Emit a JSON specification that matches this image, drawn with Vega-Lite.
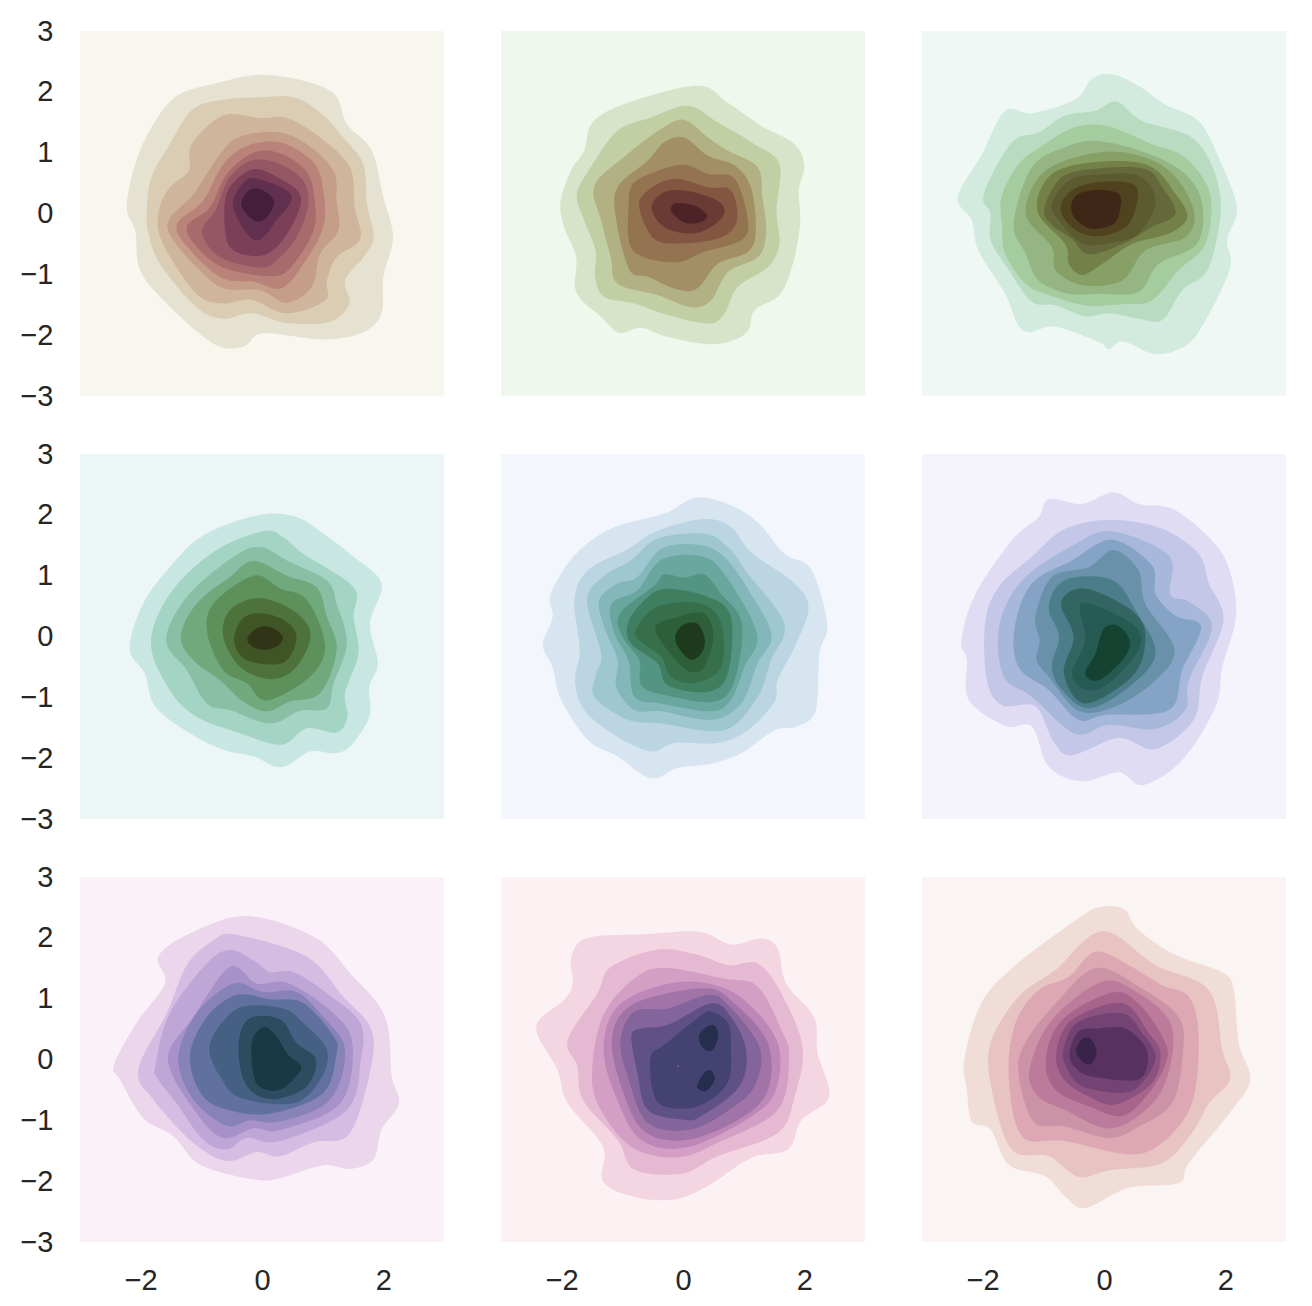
{"$schema":"https://vega.github.io/schema/vega-lite/v6.json","padding":{"left":19,"top":17,"right":0,"bottom":0},"background":"white","columns":3,"data":{"values":[
{"p":1,"k":100,"x":-3,"y":-3},{"p":1,"k":100,"x":3,"y":-3},{"p":1,"k":100,"x":3,"y":3},{"p":1,"k":100,"x":-3,"y":3},
{"p":1,"k":101,"x":-2.23,"y":0.1},{"p":1,"k":101,"x":-2.09,"y":0.81},{"p":1,"k":101,"x":-1.82,"y":1.42},{"p":1,"k":101,"x":-1.41,"y":1.93},{"p":1,"k":101,"x":-0.8,"y":2.13},{"p":1,"k":101,"x":0.08,"y":2.28},{"p":1,"k":101,"x":1.12,"y":2.02},{"p":1,"k":101,"x":1.4,"y":1.47},{"p":1,"k":101,"x":1.81,"y":1.03},{"p":1,"k":101,"x":2,"y":0.27},{"p":1,"k":101,"x":2.16,"y":-0.39},{"p":1,"k":101,"x":2,"y":-1.04},{"p":1,"k":101,"x":1.97,"y":-1.64},{"p":1,"k":101,"x":1.67,"y":-1.95},{"p":1,"k":101,"x":1.01,"y":-2.07},{"p":1,"k":101,"x":0.02,"y":-1.97},{"p":1,"k":101,"x":-0.31,"y":-2.19},{"p":1,"k":101,"x":-0.8,"y":-2.14},{"p":1,"k":101,"x":-1.57,"y":-1.48},{"p":1,"k":101,"x":-2.01,"y":-0.93},{"p":1,"k":101,"x":-2.09,"y":-0.28},
{"p":1,"k":102,"x":-1.9,"y":0.05},{"p":1,"k":102,"x":-1.82,"y":0.6},{"p":1,"k":102,"x":-1.52,"y":1.14},{"p":1,"k":102,"x":-1.13,"y":1.72},{"p":1,"k":102,"x":-0.58,"y":1.88},{"p":1,"k":102,"x":-0.03,"y":1.91},{"p":1,"k":102,"x":0.52,"y":1.91},{"p":1,"k":102,"x":0.96,"y":1.66},{"p":1,"k":102,"x":1.34,"y":1.25},{"p":1,"k":102,"x":1.67,"y":0.81},{"p":1,"k":102,"x":1.73,"y":0.16},{"p":1,"k":102,"x":1.84,"y":-0.39},{"p":1,"k":102,"x":1.67,"y":-0.72},{"p":1,"k":102,"x":1.37,"y":-1.1},{"p":1,"k":102,"x":1.44,"y":-1.48},{"p":1,"k":102,"x":1.12,"y":-1.78},{"p":1,"k":102,"x":0.41,"y":-1.8},{"p":1,"k":102,"x":-0.17,"y":-1.64},{"p":1,"k":102,"x":-0.64,"y":-1.73},{"p":1,"k":102,"x":-1.08,"y":-1.54},{"p":1,"k":102,"x":-1.68,"y":-0.83},{"p":1,"k":102,"x":-1.87,"y":-0.33},
{"p":1,"k":103,"x":-1.71,"y":0},{"p":1,"k":103,"x":-1.52,"y":0.43},{"p":1,"k":103,"x":-1.21,"y":0.7},{"p":1,"k":103,"x":-1.16,"y":1.14},{"p":1,"k":103,"x":-0.64,"y":1.61},{"p":1,"k":103,"x":-0.03,"y":1.57},{"p":1,"k":103,"x":0.41,"y":1.57},{"p":1,"k":103,"x":0.96,"y":1.25},{"p":1,"k":103,"x":1.45,"y":0.76},{"p":1,"k":103,"x":1.53,"y":0.1},{"p":1,"k":103,"x":1.62,"y":-0.42},{"p":1,"k":103,"x":1.23,"y":-0.72},{"p":1,"k":103,"x":1.07,"y":-1.1},{"p":1,"k":103,"x":1.04,"y":-1.43},{"p":1,"k":103,"x":0.41,"y":-1.64},{"p":1,"k":103,"x":-0.17,"y":-1.42},{"p":1,"k":103,"x":-0.64,"y":-1.48},{"p":1,"k":103,"x":-1.08,"y":-1.32},{"p":1,"k":103,"x":-1.63,"y":-0.5},
{"p":1,"k":104,"x":-1.54,"y":-0.11},{"p":1,"k":104,"x":-1.13,"y":0.32},{"p":1,"k":104,"x":-0.69,"y":0.98},{"p":1,"k":104,"x":-0.36,"y":1.26},{"p":1,"k":104,"x":0.24,"y":1.34},{"p":1,"k":104,"x":0.74,"y":1.14},{"p":1,"k":104,"x":1.18,"y":0.7},{"p":1,"k":104,"x":1.23,"y":0.21},{"p":1,"k":104,"x":1.26,"y":-0.28},{"p":1,"k":104,"x":0.96,"y":-0.66},{"p":1,"k":104,"x":0.82,"y":-1.21},{"p":1,"k":104,"x":0.41,"y":-1.47},{"p":1,"k":104,"x":-0.03,"y":-1.26},{"p":1,"k":104,"x":-0.64,"y":-1.23},{"p":1,"k":104,"x":-1.08,"y":-0.88},{"p":1,"k":104,"x":-1.46,"y":-0.44},
{"p":1,"k":105,"x":-1.41,"y":-0.2},{"p":1,"k":105,"x":-0.97,"y":0.21},{"p":1,"k":105,"x":-0.64,"y":0.81},{"p":1,"k":105,"x":-0.25,"y":1.11},{"p":1,"k":105,"x":0.3,"y":1.17},{"p":1,"k":105,"x":0.85,"y":0.84},{"p":1,"k":105,"x":1.01,"y":0.38},{"p":1,"k":105,"x":1.01,"y":-0.22},{"p":1,"k":105,"x":0.68,"y":-0.83},{"p":1,"k":105,"x":0.32,"y":-1.23},{"p":1,"k":105,"x":-0.14,"y":-1.12},{"p":1,"k":105,"x":-0.64,"y":-1.07},{"p":1,"k":105,"x":-1.13,"y":-0.66},
{"p":1,"k":106,"x":-1.24,"y":-0.22},{"p":1,"k":106,"x":-0.86,"y":0.1},{"p":1,"k":106,"x":-0.58,"y":0.65},{"p":1,"k":106,"x":-0.14,"y":1},{"p":1,"k":106,"x":0.3,"y":0.99},{"p":1,"k":106,"x":0.74,"y":0.68},{"p":1,"k":106,"x":0.87,"y":0.21},{"p":1,"k":106,"x":0.85,"y":-0.28},{"p":1,"k":106,"x":0.52,"y":-0.83},{"p":1,"k":106,"x":0.19,"y":-1.03},{"p":1,"k":106,"x":-0.58,"y":-0.91},{"p":1,"k":106,"x":-1.02,"y":-0.61},
{"p":1,"k":107,"x":-0.99,"y":-0.31},{"p":1,"k":107,"x":-0.77,"y":0.05},{"p":1,"k":107,"x":-0.53,"y":0.6},{"p":1,"k":107,"x":-0.14,"y":0.88},{"p":1,"k":107,"x":0.3,"y":0.81},{"p":1,"k":107,"x":0.68,"y":0.54},{"p":1,"k":107,"x":0.76,"y":0.13},{"p":1,"k":107,"x":0.57,"y":-0.39},{"p":1,"k":107,"x":0.24,"y":-0.77},{"p":1,"k":107,"x":-0.03,"y":-0.89},{"p":1,"k":107,"x":-0.69,"y":-0.72},
{"p":1,"k":108,"x":-0.62,"y":0},{"p":1,"k":108,"x":-0.53,"y":0.43},{"p":1,"k":108,"x":-0.14,"y":0.73},{"p":1,"k":108,"x":0.3,"y":0.57},{"p":1,"k":108,"x":0.63,"y":0.3},{"p":1,"k":108,"x":0.54,"y":-0.11},{"p":1,"k":108,"x":0.24,"y":-0.55},{"p":1,"k":108,"x":-0.09,"y":-0.7},{"p":1,"k":108,"x":-0.53,"y":-0.55},
{"p":1,"k":109,"x":-0.48,"y":0.13},{"p":1,"k":109,"x":-0.34,"y":0.46},{"p":1,"k":109,"x":-0.12,"y":0.58},{"p":1,"k":109,"x":0.41,"y":0.38},{"p":1,"k":109,"x":0.47,"y":0.19},{"p":1,"k":109,"x":0.24,"y":-0.11},{"p":1,"k":109,"x":-0.03,"y":-0.43},{"p":1,"k":109,"x":-0.25,"y":-0.33},
{"p":1,"k":110,"x":-0.34,"y":0.19},{"p":1,"k":110,"x":-0.2,"y":0.39},{"p":1,"k":110,"x":0.02,"y":0.38},{"p":1,"k":110,"x":0.2,"y":0.19},{"p":1,"k":110,"x":0.08,"y":-0.06},{"p":1,"k":110,"x":-0.09,"y":-0.13},{"p":1,"k":110,"x":-0.28,"y":0.02},
{"p":2,"k":200,"x":-3,"y":-3},{"p":2,"k":200,"x":3,"y":-3},{"p":2,"k":200,"x":3,"y":3},{"p":2,"k":200,"x":-3,"y":3},
{"p":2,"k":201,"x":-2.02,"y":0.19},{"p":2,"k":201,"x":-1.85,"y":0.7},{"p":2,"k":201,"x":-1.63,"y":1.03},{"p":2,"k":201,"x":-1.49,"y":1.5},{"p":2,"k":201,"x":-0.91,"y":1.82},{"p":2,"k":201,"x":0.24,"y":2.1},{"p":2,"k":201,"x":0.74,"y":1.82},{"p":2,"k":201,"x":1.29,"y":1.44},{"p":2,"k":201,"x":1.84,"y":1.14},{"p":2,"k":201,"x":2,"y":0.79},{"p":2,"k":201,"x":1.91,"y":0.38},{"p":2,"k":201,"x":1.93,"y":-0.17},{"p":2,"k":201,"x":1.81,"y":-0.83},{"p":2,"k":201,"x":1.59,"y":-1.34},{"p":2,"k":201,"x":1.18,"y":-1.59},{"p":2,"k":201,"x":1.04,"y":-1.97},{"p":2,"k":201,"x":0.52,"y":-2.15},{"p":2,"k":201,"x":-0.25,"y":-2.03},{"p":2,"k":201,"x":-0.69,"y":-1.88},{"p":2,"k":201,"x":-1.05,"y":-1.96},{"p":2,"k":201,"x":-1.35,"y":-1.7},{"p":2,"k":201,"x":-1.76,"y":-1.29},{"p":2,"k":201,"x":-1.76,"y":-0.72},{"p":2,"k":201,"x":-1.96,"y":-0.22},
{"p":2,"k":202,"x":-1.75,"y":0.32},{"p":2,"k":202,"x":-1.52,"y":0.76},{"p":2,"k":202,"x":-1.08,"y":1.36},{"p":2,"k":202,"x":-0.53,"y":1.58},{"p":2,"k":202,"x":0.08,"y":1.77},{"p":2,"k":202,"x":0.57,"y":1.5},{"p":2,"k":202,"x":1.18,"y":1.14},{"p":2,"k":202,"x":1.59,"y":0.81},{"p":2,"k":202,"x":1.54,"y":0.05},{"p":2,"k":202,"x":1.59,"y":-0.5},{"p":2,"k":202,"x":1.4,"y":-0.88},{"p":2,"k":202,"x":0.9,"y":-1.21},{"p":2,"k":202,"x":0.68,"y":-1.65},{"p":2,"k":202,"x":0.41,"y":-1.81},{"p":2,"k":202,"x":-0.25,"y":-1.67},{"p":2,"k":202,"x":-0.8,"y":-1.48},{"p":2,"k":202,"x":-1.3,"y":-1.37},{"p":2,"k":202,"x":-1.45,"y":-1.04},{"p":2,"k":202,"x":-1.44,"y":-0.61},{"p":2,"k":202,"x":-1.63,"y":-0.11},
{"p":2,"k":203,"x":-1.46,"y":0.46},{"p":2,"k":203,"x":-0.91,"y":0.98},{"p":2,"k":203,"x":-0.36,"y":1.39},{"p":2,"k":203,"x":0.02,"y":1.54},{"p":2,"k":203,"x":0.41,"y":1.25},{"p":2,"k":203,"x":0.74,"y":1.03},{"p":2,"k":203,"x":1.23,"y":0.76},{"p":2,"k":203,"x":1.31,"y":0.27},{"p":2,"k":203,"x":1.37,"y":-0.33},{"p":2,"k":203,"x":1.23,"y":-0.72},{"p":2,"k":203,"x":0.74,"y":-0.96},{"p":2,"k":203,"x":0.46,"y":-1.43},{"p":2,"k":203,"x":0.13,"y":-1.54},{"p":2,"k":203,"x":-0.42,"y":-1.34},{"p":2,"k":203,"x":-1.08,"y":-1.15},{"p":2,"k":203,"x":-1.19,"y":-0.72},{"p":2,"k":203,"x":-1.35,"y":-0.11},
{"p":2,"k":204,"x":-1.1,"y":-0.11},{"p":2,"k":204,"x":-1.08,"y":0.43},{"p":2,"k":204,"x":-0.58,"y":0.87},{"p":2,"k":204,"x":-0.31,"y":1.17},{"p":2,"k":204,"x":0.02,"y":1.25},{"p":2,"k":204,"x":0.41,"y":0.95},{"p":2,"k":204,"x":0.85,"y":0.79},{"p":2,"k":204,"x":1.12,"y":0.43},{"p":2,"k":204,"x":1.2,"y":-0.28},{"p":2,"k":204,"x":1.07,"y":-0.63},{"p":2,"k":204,"x":0.57,"y":-0.83},{"p":2,"k":204,"x":0.24,"y":-1.23},{"p":2,"k":204,"x":-0.09,"y":-1.25},{"p":2,"k":204,"x":-0.58,"y":-1.04},{"p":2,"k":204,"x":-0.88,"y":-0.93},
{"p":2,"k":205,"x":-0.9,"y":0.05},{"p":2,"k":205,"x":-0.83,"y":0.48},{"p":2,"k":205,"x":-0.42,"y":0.7},{"p":2,"k":205,"x":0.02,"y":0.8},{"p":2,"k":205,"x":0.41,"y":0.65},{"p":2,"k":205,"x":0.85,"y":0.57},{"p":2,"k":205,"x":1.07,"y":-0.11},{"p":2,"k":205,"x":0.96,"y":-0.44},{"p":2,"k":205,"x":0.35,"y":-0.63},{"p":2,"k":205,"x":-0.09,"y":-0.8},{"p":2,"k":205,"x":-0.64,"y":-0.72},{"p":2,"k":205,"x":-0.88,"y":-0.5},
{"p":2,"k":206,"x":-0.72,"y":0.1},{"p":2,"k":206,"x":-0.58,"y":0.38},{"p":2,"k":206,"x":-0.14,"y":0.57},{"p":2,"k":206,"x":0.41,"y":0.43},{"p":2,"k":206,"x":0.79,"y":0.38},{"p":2,"k":206,"x":0.89,"y":-0.11},{"p":2,"k":206,"x":0.63,"y":-0.39},{"p":2,"k":206,"x":0.02,"y":-0.49},{"p":2,"k":206,"x":-0.47,"y":-0.42},
{"p":2,"k":207,"x":-0.52,"y":0.1},{"p":2,"k":207,"x":-0.31,"y":0.35},{"p":2,"k":207,"x":0.08,"y":0.37},{"p":2,"k":207,"x":0.57,"y":0.21},{"p":2,"k":207,"x":0.68,"y":0},{"p":2,"k":207,"x":0.46,"y":-0.22},{"p":2,"k":207,"x":0.13,"y":-0.33},{"p":2,"k":207,"x":-0.31,"y":-0.22},
{"p":2,"k":208,"x":-0.2,"y":0.07},{"p":2,"k":208,"x":-0.12,"y":0.17},{"p":2,"k":208,"x":0.19,"y":0.13},{"p":2,"k":208,"x":0.4,"y":-0.03},{"p":2,"k":208,"x":0.3,"y":-0.14},{"p":2,"k":208,"x":0.05,"y":-0.16},{"p":2,"k":208,"x":-0.12,"y":-0.05},
{"p":3,"k":300,"x":-3,"y":-3},{"p":3,"k":300,"x":3,"y":-3},{"p":3,"k":300,"x":3,"y":3},{"p":3,"k":300,"x":-3,"y":3},
{"p":3,"k":301,"x":-2.41,"y":0.27},{"p":3,"k":301,"x":-2.01,"y":0.98},{"p":3,"k":301,"x":-1.63,"y":1.69},{"p":3,"k":301,"x":-1.19,"y":1.65},{"p":3,"k":301,"x":-0.47,"y":1.88},{"p":3,"k":301,"x":-0.2,"y":2.21},{"p":3,"k":301,"x":0.13,"y":2.29},{"p":3,"k":301,"x":0.57,"y":2.1},{"p":3,"k":301,"x":1.01,"y":1.79},{"p":3,"k":301,"x":1.56,"y":1.52},{"p":3,"k":301,"x":1.89,"y":0.92},{"p":3,"k":301,"x":2.19,"y":0.1},{"p":3,"k":301,"x":2.03,"y":-0.44},{"p":3,"k":301,"x":2.07,"y":-0.93},{"p":3,"k":301,"x":1.56,"y":-1.95},{"p":3,"k":301,"x":1.18,"y":-2.25},{"p":3,"k":301,"x":0.79,"y":-2.3},{"p":3,"k":301,"x":0.32,"y":-2.1},{"p":3,"k":301,"x":0.08,"y":-2.23},{"p":3,"k":301,"x":-0.09,"y":-2.11},{"p":3,"k":301,"x":-0.8,"y":-1.86},{"p":3,"k":301,"x":-1.24,"y":-1.95},{"p":3,"k":301,"x":-1.43,"y":-1.81},{"p":3,"k":301,"x":-1.63,"y":-1.32},{"p":3,"k":301,"x":-2.07,"y":-0.61},{"p":3,"k":301,"x":-2.18,"y":-0.11},
{"p":3,"k":302,"x":-1.98,"y":0.32},{"p":3,"k":302,"x":-1.52,"y":1.17},{"p":3,"k":302,"x":-1.08,"y":1.33},{"p":3,"k":302,"x":-0.64,"y":1.61},{"p":3,"k":302,"x":-0.14,"y":1.69},{"p":3,"k":302,"x":0.21,"y":1.84},{"p":3,"k":302,"x":0.63,"y":1.52},{"p":3,"k":302,"x":1.51,"y":1.2},{"p":3,"k":302,"x":1.92,"y":0.27},{"p":3,"k":302,"x":1.73,"y":-0.88},{"p":3,"k":302,"x":1.29,"y":-1.26},{"p":3,"k":302,"x":0.96,"y":-1.75},{"p":3,"k":302,"x":0.57,"y":-1.73},{"p":3,"k":302,"x":0.08,"y":-1.64},{"p":3,"k":302,"x":-0.31,"y":-1.69},{"p":3,"k":302,"x":-0.8,"y":-1.51},{"p":3,"k":302,"x":-1.19,"y":-1.45},{"p":3,"k":302,"x":-1.57,"y":-0.93},{"p":3,"k":302,"x":-1.87,"y":-0.44},{"p":3,"k":302,"x":-1.87,"y":0},
{"p":3,"k":303,"x":-1.69,"y":0.27},{"p":3,"k":303,"x":-1.41,"y":0.81},{"p":3,"k":303,"x":-1.02,"y":1.11},{"p":3,"k":303,"x":-0.47,"y":1.42},{"p":3,"k":303,"x":0.08,"y":1.43},{"p":3,"k":303,"x":0.79,"y":1.14},{"p":3,"k":303,"x":1.34,"y":0.92},{"p":3,"k":303,"x":1.75,"y":0.32},{"p":3,"k":303,"x":1.67,"y":-0.5},{"p":3,"k":303,"x":1.23,"y":-0.93},{"p":3,"k":303,"x":0.79,"y":-1.43},{"p":3,"k":303,"x":0.3,"y":-1.49},{"p":3,"k":303,"x":-0.31,"y":-1.51},{"p":3,"k":303,"x":-0.91,"y":-1.34},{"p":3,"k":303,"x":-1.3,"y":-1.15},{"p":3,"k":303,"x":-1.63,"y":-0.66},{"p":3,"k":303,"x":-1.68,"y":-0.22},
{"p":3,"k":304,"x":-1.49,"y":-0.17},{"p":3,"k":304,"x":-1.19,"y":0.76},{"p":3,"k":304,"x":-0.64,"y":1.09},{"p":3,"k":304,"x":-0.09,"y":1.19},{"p":3,"k":304,"x":0.74,"y":0.98},{"p":3,"k":304,"x":1.34,"y":0.65},{"p":3,"k":304,"x":1.62,"y":0.16},{"p":3,"k":304,"x":1.53,"y":-0.5},{"p":3,"k":304,"x":0.9,"y":-0.83},{"p":3,"k":304,"x":0.57,"y":-1.29},{"p":3,"k":304,"x":-0.09,"y":-1.32},{"p":3,"k":304,"x":-0.58,"y":-1.32},{"p":3,"k":304,"x":-1.08,"y":-1.1},{"p":3,"k":304,"x":-1.29,"y":-0.66},
{"p":3,"k":305,"x":-1.29,"y":0},{"p":3,"k":305,"x":-0.97,"y":0.7},{"p":3,"k":305,"x":-0.03,"y":1.01},{"p":3,"k":305,"x":0.74,"y":0.9},{"p":3,"k":305,"x":1.23,"y":0.54},{"p":3,"k":305,"x":1.49,"y":0},{"p":3,"k":305,"x":1.34,"y":-0.39},{"p":3,"k":305,"x":0.68,"y":-0.61},{"p":3,"k":305,"x":0.3,"y":-1.1},{"p":3,"k":305,"x":-0.36,"y":-1.18},{"p":3,"k":305,"x":-0.8,"y":-0.93},{"p":3,"k":305,"x":-0.86,"y":-0.55},
{"p":3,"k":306,"x":-1.1,"y":0.05},{"p":3,"k":306,"x":-0.86,"y":0.65},{"p":3,"k":306,"x":-0.09,"y":0.85},{"p":3,"k":306,"x":0.74,"y":0.79},{"p":3,"k":306,"x":1.18,"y":0.32},{"p":3,"k":306,"x":1.37,"y":-0.06},{"p":3,"k":306,"x":1.07,"y":-0.33},{"p":3,"k":306,"x":0.46,"y":-0.5},{"p":3,"k":306,"x":-0.03,"y":-0.83},{"p":3,"k":306,"x":-0.36,"y":-1.01},{"p":3,"k":306,"x":-0.58,"y":-0.83},{"p":3,"k":306,"x":-0.64,"y":-0.5},
{"p":3,"k":307,"x":-0.98,"y":0.1},{"p":3,"k":307,"x":-0.69,"y":0.6},{"p":3,"k":307,"x":-0.09,"y":0.74},{"p":3,"k":307,"x":0.68,"y":0.73},{"p":3,"k":307,"x":0.96,"y":0.43},{"p":3,"k":307,"x":1.18,"y":0},{"p":3,"k":307,"x":0.79,"y":-0.22},{"p":3,"k":307,"x":0.3,"y":-0.5},{"p":3,"k":307,"x":-0.25,"y":-0.67},{"p":3,"k":307,"x":-0.53,"y":-0.42},{"p":3,"k":307,"x":-0.88,"y":-0.17},
{"p":3,"k":308,"x":-0.86,"y":0.16},{"p":3,"k":308,"x":-0.58,"y":0.54},{"p":3,"k":308,"x":-0.09,"y":0.64},{"p":3,"k":308,"x":0.57,"y":0.62},{"p":3,"k":308,"x":0.85,"y":0.21},{"p":3,"k":308,"x":0.57,"y":-0.33},{"p":3,"k":308,"x":0.08,"y":-0.49},{"p":3,"k":308,"x":-0.36,"y":-0.49},{"p":3,"k":308,"x":-0.75,"y":-0.11},
{"p":3,"k":309,"x":-0.71,"y":0.13},{"p":3,"k":309,"x":-0.53,"y":0.38},{"p":3,"k":309,"x":-0.14,"y":0.51},{"p":3,"k":309,"x":0.41,"y":0.5},{"p":3,"k":309,"x":0.56,"y":0.32},{"p":3,"k":309,"x":0.41,"y":-0.17},{"p":3,"k":309,"x":0.02,"y":-0.36},{"p":3,"k":309,"x":-0.36,"y":-0.33},{"p":3,"k":309,"x":-0.64,"y":-0.11},
{"p":3,"k":310,"x":-0.54,"y":0.13},{"p":3,"k":310,"x":-0.42,"y":0.32},{"p":3,"k":310,"x":-0.09,"y":0.39},{"p":3,"k":310,"x":0.24,"y":0.32},{"p":3,"k":310,"x":0.27,"y":0.1},{"p":3,"k":310,"x":0.16,"y":-0.17},{"p":3,"k":310,"x":-0.2,"y":-0.25},{"p":3,"k":310,"x":-0.47,"y":-0.09},
{"p":4,"k":400,"x":-3,"y":-3},{"p":4,"k":400,"x":3,"y":-3},{"p":4,"k":400,"x":3,"y":3},{"p":4,"k":400,"x":-3,"y":3},
{"p":4,"k":401,"x":-2.18,"y":-0.2},{"p":4,"k":401,"x":-1.96,"y":0.54},{"p":4,"k":401,"x":-1.52,"y":1.14},{"p":4,"k":401,"x":-0.97,"y":1.66},{"p":4,"k":401,"x":-0.09,"y":1.99},{"p":4,"k":401,"x":0.52,"y":1.98},{"p":4,"k":401,"x":0.96,"y":1.73},{"p":4,"k":401,"x":1.51,"y":1.31},{"p":4,"k":401,"x":1.97,"y":0.87},{"p":4,"k":401,"x":1.78,"y":0.21},{"p":4,"k":401,"x":1.91,"y":-0.44},{"p":4,"k":401,"x":1.77,"y":-0.83},{"p":4,"k":401,"x":1.77,"y":-1.32},{"p":4,"k":401,"x":1.45,"y":-1.81},{"p":4,"k":401,"x":1.18,"y":-1.92},{"p":4,"k":401,"x":0.79,"y":-1.89},{"p":4,"k":401,"x":0.32,"y":-2.15},{"p":4,"k":401,"x":-0.14,"y":-1.97},{"p":4,"k":401,"x":-0.64,"y":-1.86},{"p":4,"k":401,"x":-1.19,"y":-1.59},{"p":4,"k":401,"x":-1.76,"y":-1.15},{"p":4,"k":401,"x":-1.93,"y":-0.61},
{"p":4,"k":402,"x":-1.83,"y":-0.11},{"p":4,"k":402,"x":-1.52,"y":0.7},{"p":4,"k":402,"x":-0.8,"y":1.39},{"p":4,"k":402,"x":0.02,"y":1.73},{"p":4,"k":402,"x":0.35,"y":1.63},{"p":4,"k":402,"x":0.68,"y":1.36},{"p":4,"k":402,"x":1.51,"y":0.81},{"p":4,"k":402,"x":1.51,"y":0.32},{"p":4,"k":402,"x":1.59,"y":-0.28},{"p":4,"k":402,"x":1.37,"y":-0.93},{"p":4,"k":402,"x":1.41,"y":-1.32},{"p":4,"k":402,"x":1.23,"y":-1.58},{"p":4,"k":402,"x":0.74,"y":-1.51},{"p":4,"k":402,"x":0.32,"y":-1.78},{"p":4,"k":402,"x":-0.36,"y":-1.59},{"p":4,"k":402,"x":-1.08,"y":-1.32},{"p":4,"k":402,"x":-1.52,"y":-0.88},
{"p":4,"k":403,"x":-1.58,"y":-0.06},{"p":4,"k":403,"x":-1.24,"y":0.65},{"p":4,"k":403,"x":-0.47,"y":1.31},{"p":4,"k":403,"x":-0.03,"y":1.47},{"p":4,"k":403,"x":0.41,"y":1.25},{"p":4,"k":403,"x":1.07,"y":0.92},{"p":4,"k":403,"x":1.23,"y":0.54},{"p":4,"k":403,"x":1.4,"y":-0.11},{"p":4,"k":403,"x":1.18,"y":-0.77},{"p":4,"k":403,"x":1.07,"y":-1.18},{"p":4,"k":403,"x":0.63,"y":-1.22},{"p":4,"k":403,"x":0.13,"y":-1.43},{"p":4,"k":403,"x":-0.53,"y":-1.21},{"p":4,"k":403,"x":-0.91,"y":-1.1},{"p":4,"k":403,"x":-1.24,"y":-0.55},
{"p":4,"k":404,"x":-1.34,"y":0},{"p":4,"k":404,"x":-1.08,"y":0.54},{"p":4,"k":404,"x":-0.53,"y":0.98},{"p":4,"k":404,"x":-0.14,"y":1.24},{"p":4,"k":404,"x":0.41,"y":1},{"p":4,"k":404,"x":0.9,"y":0.81},{"p":4,"k":404,"x":1.07,"y":0.32},{"p":4,"k":404,"x":1.23,"y":-0.22},{"p":4,"k":404,"x":0.96,"y":-0.93},{"p":4,"k":404,"x":0.46,"y":-1.07},{"p":4,"k":404,"x":0.08,"y":-1.23},{"p":4,"k":404,"x":-0.31,"y":-1.07},{"p":4,"k":404,"x":-0.69,"y":-0.72},{"p":4,"k":404,"x":-1.13,"y":-0.39},
{"p":4,"k":405,"x":-0.9,"y":0.05},{"p":4,"k":405,"x":-0.8,"y":0.54},{"p":4,"k":405,"x":-0.14,"y":1},{"p":4,"k":405,"x":0.3,"y":0.79},{"p":4,"k":405,"x":0.74,"y":0.6},{"p":4,"k":405,"x":1.04,"y":-0.14},{"p":4,"k":405,"x":0.79,"y":-0.66},{"p":4,"k":405,"x":0.08,"y":-1.05},{"p":4,"k":405,"x":-0.25,"y":-0.77},{"p":4,"k":405,"x":-0.64,"y":-0.55},
{"p":4,"k":406,"x":-0.64,"y":0},{"p":4,"k":406,"x":-0.53,"y":0.43},{"p":4,"k":406,"x":-0.09,"y":0.63},{"p":4,"k":406,"x":0.41,"y":0.49},{"p":4,"k":406,"x":0.74,"y":0.21},{"p":4,"k":406,"x":0.78,"y":-0.11},{"p":4,"k":406,"x":0.52,"y":-0.55},{"p":4,"k":406,"x":0.13,"y":-0.7},{"p":4,"k":406,"x":-0.36,"y":-0.5},
{"p":4,"k":407,"x":-0.46,"y":-0.06},{"p":4,"k":407,"x":-0.31,"y":0.3},{"p":4,"k":407,"x":0.02,"y":0.38},{"p":4,"k":407,"x":0.41,"y":0.24},{"p":4,"k":407,"x":0.57,"y":-0.03},{"p":4,"k":407,"x":0.35,"y":-0.43},{"p":4,"k":407,"x":-0.25,"y":-0.39},
{"p":4,"k":408,"x":-0.24,"y":-0.03},{"p":4,"k":408,"x":-0.09,"y":0.13},{"p":4,"k":408,"x":0.13,"y":0.16},{"p":4,"k":408,"x":0.34,"y":0},{"p":4,"k":408,"x":0.24,"y":-0.17},{"p":4,"k":408,"x":0.02,"y":-0.22},{"p":4,"k":408,"x":-0.17,"y":-0.16},
{"p":5,"k":500,"x":-3,"y":-3},{"p":5,"k":500,"x":3,"y":-3},{"p":5,"k":500,"x":3,"y":3},{"p":5,"k":500,"x":-3,"y":3},
{"p":5,"k":501,"x":-2.31,"y":-0.14},{"p":5,"k":501,"x":-2.15,"y":0.32},{"p":5,"k":501,"x":-2.18,"y":0.7},{"p":5,"k":501,"x":-1.79,"y":1.33},{"p":5,"k":501,"x":-1.19,"y":1.77},{"p":5,"k":501,"x":-0.31,"y":2.02},{"p":5,"k":501,"x":0.21,"y":2.28},{"p":5,"k":501,"x":0.74,"y":2.18},{"p":5,"k":501,"x":1.23,"y":1.88},{"p":5,"k":501,"x":1.67,"y":1.36},{"p":5,"k":501,"x":2.11,"y":1.11},{"p":5,"k":501,"x":2.38,"y":0.21},{"p":5,"k":501,"x":2.25,"y":-0.28},{"p":5,"k":501,"x":2.19,"y":-1.21},{"p":5,"k":501,"x":1.89,"y":-1.48},{"p":5,"k":501,"x":1.51,"y":-1.54},{"p":5,"k":501,"x":0.96,"y":-1.92},{"p":5,"k":501,"x":0.46,"y":-2.09},{"p":5,"k":501,"x":-0.09,"y":-2.16},{"p":5,"k":501,"x":-0.53,"y":-2.33},{"p":5,"k":501,"x":-1.08,"y":-1.97},{"p":5,"k":501,"x":-1.57,"y":-1.7},{"p":5,"k":501,"x":-2.01,"y":-1.04},{"p":5,"k":501,"x":-2.15,"y":-0.5},
{"p":5,"k":502,"x":-1.79,"y":0.6},{"p":5,"k":502,"x":-1.57,"y":1.09},{"p":5,"k":502,"x":-0.91,"y":1.44},{"p":5,"k":502,"x":-0.42,"y":1.74},{"p":5,"k":502,"x":0.35,"y":1.93},{"p":5,"k":502,"x":0.79,"y":1.8},{"p":5,"k":502,"x":1.12,"y":1.39},{"p":5,"k":502,"x":1.84,"y":0.87},{"p":5,"k":502,"x":2.07,"y":0.46},{"p":5,"k":502,"x":1.84,"y":-0.17},{"p":5,"k":502,"x":1.56,"y":-0.72},{"p":5,"k":502,"x":1.51,"y":-1.07},{"p":5,"k":502,"x":1.07,"y":-1.54},{"p":5,"k":502,"x":0.57,"y":-1.75},{"p":5,"k":502,"x":-0.14,"y":-1.75},{"p":5,"k":502,"x":-0.53,"y":-1.89},{"p":5,"k":502,"x":-1.13,"y":-1.62},{"p":5,"k":502,"x":-1.63,"y":-1.21},{"p":5,"k":502,"x":-1.78,"y":-0.72},{"p":5,"k":502,"x":-1.7,"y":-0.22},
{"p":5,"k":503,"x":-1.58,"y":0.6},{"p":5,"k":503,"x":-1.3,"y":1},{"p":5,"k":503,"x":-0.86,"y":1.25},{"p":5,"k":503,"x":-0.42,"y":1.61},{"p":5,"k":503,"x":0.35,"y":1.69},{"p":5,"k":503,"x":0.74,"y":1.47},{"p":5,"k":503,"x":1.07,"y":1.03},{"p":5,"k":503,"x":1.67,"y":0.21},{"p":5,"k":503,"x":1.45,"y":-0.39},{"p":5,"k":503,"x":1.23,"y":-0.99},{"p":5,"k":503,"x":0.68,"y":-1.54},{"p":5,"k":503,"x":-0.36,"y":-1.43},{"p":5,"k":503,"x":-0.91,"y":-1.37},{"p":5,"k":503,"x":-1.46,"y":-0.99},{"p":5,"k":503,"x":-1.43,"y":-0.61},{"p":5,"k":503,"x":-1.35,"y":-0.28},
{"p":5,"k":504,"x":-1.38,"y":0.6},{"p":5,"k":504,"x":-1.08,"y":0.87},{"p":5,"k":504,"x":-0.75,"y":0.98},{"p":5,"k":504,"x":-0.36,"y":1.44},{"p":5,"k":504,"x":0.24,"y":1.51},{"p":5,"k":504,"x":0.68,"y":1.31},{"p":5,"k":504,"x":1.12,"y":0.7},{"p":5,"k":504,"x":1.46,"y":0.02},{"p":5,"k":504,"x":1.23,"y":-0.44},{"p":5,"k":504,"x":0.96,"y":-1.1},{"p":5,"k":504,"x":0.46,"y":-1.37},{"p":5,"k":504,"x":-0.36,"y":-1.23},{"p":5,"k":504,"x":-0.8,"y":-1.21},{"p":5,"k":504,"x":-1.1,"y":-0.83},{"p":5,"k":504,"x":-1.08,"y":-0.39},{"p":5,"k":504,"x":-1.3,"y":0.16},
{"p":5,"k":505,"x":-1.18,"y":0.54},{"p":5,"k":505,"x":-0.75,"y":0.76},{"p":5,"k":505,"x":-0.36,"y":1.26},{"p":5,"k":505,"x":0.3,"y":1.32},{"p":5,"k":505,"x":0.68,"y":1.03},{"p":5,"k":505,"x":1.22,"y":0.05},{"p":5,"k":505,"x":1.01,"y":-0.5},{"p":5,"k":505,"x":0.79,"y":-1.04},{"p":5,"k":505,"x":0.46,"y":-1.23},{"p":5,"k":505,"x":-0.36,"y":-1.1},{"p":5,"k":505,"x":-0.8,"y":-0.99},{"p":5,"k":505,"x":-0.9,"y":-0.39},{"p":5,"k":505,"x":-1.13,"y":0.05},
{"p":5,"k":506,"x":-1.04,"y":0.38},{"p":5,"k":506,"x":-0.47,"y":0.84},{"p":5,"k":506,"x":-0.31,"y":1.02},{"p":5,"k":506,"x":0.02,"y":0.97},{"p":5,"k":506,"x":0.35,"y":1.02},{"p":5,"k":506,"x":0.63,"y":0.7},{"p":5,"k":506,"x":0.97,"y":0.21},{"p":5,"k":506,"x":0.85,"y":-0.72},{"p":5,"k":506,"x":0.52,"y":-1.07},{"p":5,"k":506,"x":-0.31,"y":-0.96},{"p":5,"k":506,"x":-0.69,"y":-0.8},{"p":5,"k":506,"x":-0.72,"y":-0.39},{"p":5,"k":506,"x":-1,"y":0},
{"p":5,"k":507,"x":-0.91,"y":0.21},{"p":5,"k":507,"x":-0.69,"y":0.54},{"p":5,"k":507,"x":-0.31,"y":0.78},{"p":5,"k":507,"x":0.41,"y":0.65},{"p":5,"k":507,"x":0.79,"y":0.32},{"p":5,"k":507,"x":0.74,"y":-0.61},{"p":5,"k":507,"x":0.41,"y":-0.91},{"p":5,"k":507,"x":-0.25,"y":-0.8},{"p":5,"k":507,"x":-0.42,"y":-0.44},{"p":5,"k":507,"x":-0.86,"y":-0.11},
{"p":5,"k":508,"x":-0.77,"y":0.13},{"p":5,"k":508,"x":-0.42,"y":0.49},{"p":5,"k":508,"x":0.3,"y":0.54},{"p":5,"k":508,"x":0.63,"y":0.21},{"p":5,"k":508,"x":0.63,"y":-0.5},{"p":5,"k":508,"x":0.19,"y":-0.76},{"p":5,"k":508,"x":-0.2,"y":-0.66},{"p":5,"k":508,"x":-0.36,"y":-0.33},{"p":5,"k":508,"x":-0.72,"y":-0.06},
{"p":5,"k":509,"x":-0.46,"y":0.13},{"p":5,"k":509,"x":-0.09,"y":0.32},{"p":5,"k":509,"x":0.35,"y":0.38},{"p":5,"k":509,"x":0.5,"y":0},{"p":5,"k":509,"x":0.35,"y":-0.5},{"p":5,"k":509,"x":0.13,"y":-0.58},{"p":5,"k":509,"x":-0.12,"y":-0.39},
{"p":5,"k":510,"x":-0.13,"y":0},{"p":5,"k":510,"x":0,"y":0.19},{"p":5,"k":510,"x":0.24,"y":0.21},{"p":5,"k":510,"x":0.36,"y":-0.06},{"p":5,"k":510,"x":0.3,"y":-0.28},{"p":5,"k":510,"x":0.13,"y":-0.38},{"p":5,"k":510,"x":-0.06,"y":-0.2},
{"p":6,"k":600,"x":-3,"y":-3},{"p":6,"k":600,"x":3,"y":-3},{"p":6,"k":600,"x":3,"y":3},{"p":6,"k":600,"x":-3,"y":3},
{"p":6,"k":601,"x":-2.35,"y":-0.06},{"p":6,"k":601,"x":-2.12,"y":0.7},{"p":6,"k":601,"x":-1.52,"y":1.58},{"p":6,"k":601,"x":-1.08,"y":1.96},{"p":6,"k":601,"x":-0.91,"y":2.26},{"p":6,"k":601,"x":-0.36,"y":2.18},{"p":6,"k":601,"x":0.16,"y":2.37},{"p":6,"k":601,"x":0.57,"y":2.18},{"p":6,"k":601,"x":1.12,"y":2.1},{"p":6,"k":601,"x":1.67,"y":1.69},{"p":6,"k":601,"x":2.03,"y":1.2},{"p":6,"k":601,"x":2.18,"y":0.38},{"p":6,"k":601,"x":1.95,"y":-0.5},{"p":6,"k":601,"x":1.84,"y":-1.15},{"p":6,"k":601,"x":1.29,"y":-2.03},{"p":6,"k":601,"x":0.65,"y":-2.44},{"p":6,"k":601,"x":0.24,"y":-2.23},{"p":6,"k":601,"x":-0.36,"y":-2.38},{"p":6,"k":601,"x":-0.91,"y":-2.14},{"p":6,"k":601,"x":-1.19,"y":-1.48},{"p":6,"k":601,"x":-1.63,"y":-1.47},{"p":6,"k":601,"x":-2.23,"y":-1.04},{"p":6,"k":601,"x":-2.26,"y":-0.39},
{"p":6,"k":602,"x":-1.96,"y":0.21},{"p":6,"k":602,"x":-1.74,"y":0.81},{"p":6,"k":602,"x":-1.19,"y":1.31},{"p":6,"k":602,"x":-0.64,"y":1.77},{"p":6,"k":602,"x":0.13,"y":1.92},{"p":6,"k":602,"x":0.96,"y":1.77},{"p":6,"k":602,"x":1.56,"y":1.36},{"p":6,"k":602,"x":1.73,"y":0.87},{"p":6,"k":602,"x":1.97,"y":0.27},{"p":6,"k":602,"x":1.62,"y":-0.66},{"p":6,"k":602,"x":1.48,"y":-1.37},{"p":6,"k":602,"x":0.85,"y":-1.85},{"p":6,"k":602,"x":0.24,"y":-1.67},{"p":6,"k":602,"x":-0.53,"y":-1.95},{"p":6,"k":602,"x":-0.83,"y":-1.73},{"p":6,"k":602,"x":-1.13,"y":-1.15},{"p":6,"k":602,"x":-1.68,"y":-1.13},{"p":6,"k":602,"x":-1.93,"y":-0.72},
{"p":6,"k":603,"x":-1.73,"y":0.16},{"p":6,"k":603,"x":-1.35,"y":0.92},{"p":6,"k":603,"x":-0.47,"y":1.52},{"p":6,"k":603,"x":0.13,"y":1.73},{"p":6,"k":603,"x":1.07,"y":1.33},{"p":6,"k":603,"x":1.09,"y":0.7},{"p":6,"k":603,"x":1.4,"y":0.57},{"p":6,"k":603,"x":1.78,"y":0.16},{"p":6,"k":603,"x":1.4,"y":-0.72},{"p":6,"k":603,"x":1.34,"y":-1.21},{"p":6,"k":603,"x":0.85,"y":-1.52},{"p":6,"k":603,"x":0.08,"y":-1.45},{"p":6,"k":603,"x":-0.47,"y":-1.6},{"p":6,"k":603,"x":-1.19,"y":-0.99},{"p":6,"k":603,"x":-1.65,"y":-0.66},
{"p":6,"k":604,"x":-1.47,"y":0.16},{"p":6,"k":604,"x":-1.19,"y":0.87},{"p":6,"k":604,"x":-0.53,"y":1.25},{"p":6,"k":604,"x":0.13,"y":1.59},{"p":6,"k":604,"x":0.79,"y":1.17},{"p":6,"k":604,"x":0.85,"y":0.7},{"p":6,"k":604,"x":1.18,"y":0.34},{"p":6,"k":604,"x":1.6,"y":0.16},{"p":6,"k":604,"x":1.29,"y":-0.55},{"p":6,"k":604,"x":1.07,"y":-1.21},{"p":6,"k":604,"x":0.02,"y":-1.29},{"p":6,"k":604,"x":-0.42,"y":-1.37},{"p":6,"k":604,"x":-0.91,"y":-0.88},{"p":6,"k":604,"x":-1.41,"y":-0.5},
{"p":6,"k":605,"x":-1.13,"y":0.32},{"p":6,"k":605,"x":-0.86,"y":0.98},{"p":6,"k":605,"x":-0.25,"y":1.14},{"p":6,"k":605,"x":0.16,"y":1.42},{"p":6,"k":605,"x":0.57,"y":1.09},{"p":6,"k":605,"x":0.68,"y":0.54},{"p":6,"k":605,"x":1.16,"y":-0.2},{"p":6,"k":605,"x":0.85,"y":-0.72},{"p":6,"k":605,"x":0.19,"y":-1.15},{"p":6,"k":605,"x":-0.42,"y":-1.22},{"p":6,"k":605,"x":-0.91,"y":-0.66},{"p":6,"k":605,"x":-1.11,"y":-0.39},{"p":6,"k":605,"x":-1.06,"y":-0.06},
{"p":6,"k":606,"x":-0.91,"y":0.49},{"p":6,"k":606,"x":-0.64,"y":0.93},{"p":6,"k":606,"x":0.13,"y":0.93},{"p":6,"k":606,"x":0.52,"y":0.43},{"p":6,"k":606,"x":0.85,"y":-0.28},{"p":6,"k":606,"x":0.41,"y":-0.83},{"p":6,"k":606,"x":-0.25,"y":-1.18},{"p":6,"k":606,"x":-0.69,"y":-0.88},{"p":6,"k":606,"x":-0.86,"y":-0.5},{"p":6,"k":606,"x":-0.74,"y":0},
{"p":6,"k":607,"x":-0.71,"y":0.54},{"p":6,"k":607,"x":-0.42,"y":0.79},{"p":6,"k":607,"x":0.08,"y":0.65},{"p":6,"k":607,"x":0.57,"y":0.32},{"p":6,"k":607,"x":0.68,"y":-0.11},{"p":6,"k":607,"x":0.46,"y":-0.66},{"p":6,"k":607,"x":-0.31,"y":-1.1},{"p":6,"k":607,"x":-0.66,"y":-0.61},{"p":6,"k":607,"x":-0.5,"y":0},
{"p":6,"k":608,"x":-0.4,"y":0.51},{"p":6,"k":608,"x":-0.09,"y":0.49},{"p":6,"k":608,"x":0.52,"y":0.16},{"p":6,"k":608,"x":0.57,"y":-0.22},{"p":6,"k":608,"x":0.08,"y":-0.77},{"p":6,"k":608,"x":-0.31,"y":-0.88},{"p":6,"k":608,"x":-0.53,"y":-0.61},{"p":6,"k":608,"x":-0.31,"y":-0.06},
{"p":6,"k":609,"x":-0.31,"y":-0.61},{"p":6,"k":609,"x":-0.14,"y":-0.28},{"p":6,"k":609,"x":0,"y":0.13},{"p":6,"k":609,"x":0.24,"y":0.17},{"p":6,"k":609,"x":0.43,"y":-0.09},{"p":6,"k":609,"x":0.3,"y":-0.39},{"p":6,"k":609,"x":-0.09,"y":-0.72},
{"p":7,"k":700,"x":-3,"y":-3},{"p":7,"k":700,"x":3,"y":-3},{"p":7,"k":700,"x":3,"y":3},{"p":7,"k":700,"x":-3,"y":3},
{"p":7,"k":701,"x":-2.44,"y":-0.09},{"p":7,"k":701,"x":-2.07,"y":0.6},{"p":7,"k":701,"x":-1.6,"y":1.25},{"p":7,"k":701,"x":-1.71,"y":1.69},{"p":7,"k":701,"x":-1.19,"y":2.07},{"p":7,"k":701,"x":-0.25,"y":2.36},{"p":7,"k":701,"x":0.85,"y":2.02},{"p":7,"k":701,"x":1.45,"y":1.42},{"p":7,"k":701,"x":2.03,"y":0.7},{"p":7,"k":701,"x":2.14,"y":-0.28},{"p":7,"k":701,"x":2.26,"y":-0.72},{"p":7,"k":701,"x":1.97,"y":-1.15},{"p":7,"k":701,"x":1.84,"y":-1.64},{"p":7,"k":701,"x":1.45,"y":-1.8},{"p":7,"k":701,"x":1.01,"y":-1.74},{"p":7,"k":701,"x":0.3,"y":-1.95},{"p":7,"k":701,"x":-0.14,"y":-1.97},{"p":7,"k":701,"x":-1.02,"y":-1.73},{"p":7,"k":701,"x":-1.46,"y":-1.26},{"p":7,"k":701,"x":-1.96,"y":-0.96},{"p":7,"k":701,"x":-2.34,"y":-0.33},
{"p":7,"k":702,"x":-2.04,"y":-0.17},{"p":7,"k":702,"x":-1.57,"y":0.76},{"p":7,"k":702,"x":-1.24,"y":1.55},{"p":7,"k":702,"x":-0.8,"y":1.96},{"p":7,"k":702,"x":-0.42,"y":2.05},{"p":7,"k":702,"x":0.74,"y":1.69},{"p":7,"k":702,"x":1.34,"y":1.03},{"p":7,"k":702,"x":1.78,"y":0.54},{"p":7,"k":702,"x":1.81,"y":-0.06},{"p":7,"k":702,"x":1.45,"y":-1.21},{"p":7,"k":702,"x":0.85,"y":-1.36},{"p":7,"k":702,"x":0.3,"y":-1.59},{"p":7,"k":702,"x":-0.09,"y":-1.52},{"p":7,"k":702,"x":-0.58,"y":-1.67},{"p":7,"k":702,"x":-1.13,"y":-1.37},{"p":7,"k":702,"x":-1.79,"y":-0.66},
{"p":7,"k":703,"x":-1.76,"y":-0.11},{"p":7,"k":703,"x":-1.52,"y":0.76},{"p":7,"k":703,"x":-0.91,"y":1.58},{"p":7,"k":703,"x":-0.53,"y":1.8},{"p":7,"k":703,"x":-0.14,"y":1.63},{"p":7,"k":703,"x":0.13,"y":1.44},{"p":7,"k":703,"x":0.52,"y":1.44},{"p":7,"k":703,"x":1.07,"y":1.09},{"p":7,"k":703,"x":1.62,"y":0.6},{"p":7,"k":703,"x":1.63,"y":0},{"p":7,"k":703,"x":1.4,"y":-0.83},{"p":7,"k":703,"x":0.3,"y":-1.34},{"p":7,"k":703,"x":-0.25,"y":-1.29},{"p":7,"k":703,"x":-0.58,"y":-1.48},{"p":7,"k":703,"x":-0.97,"y":-1.32},{"p":7,"k":703,"x":-1.41,"y":-0.72},{"p":7,"k":703,"x":-1.71,"y":-0.33},
{"p":7,"k":704,"x":-1.55,"y":0},{"p":7,"k":704,"x":-1.13,"y":0.7},{"p":7,"k":704,"x":-0.53,"y":1.52},{"p":7,"k":704,"x":-0.09,"y":1.25},{"p":7,"k":704,"x":0.41,"y":1.26},{"p":7,"k":704,"x":1.12,"y":0.81},{"p":7,"k":704,"x":1.49,"y":0.27},{"p":7,"k":704,"x":1.29,"y":-0.72},{"p":7,"k":704,"x":0.3,"y":-1.16},{"p":7,"k":704,"x":-0.14,"y":-1.13},{"p":7,"k":704,"x":-0.64,"y":-1.29},{"p":7,"k":704,"x":-1.08,"y":-0.88},
{"p":7,"k":705,"x":-1.38,"y":0.02},{"p":7,"k":705,"x":-1.08,"y":0.76},{"p":7,"k":705,"x":-0.47,"y":1.25},{"p":7,"k":705,"x":0.02,"y":1.11},{"p":7,"k":705,"x":0.57,"y":1.11},{"p":7,"k":705,"x":1.01,"y":0.7},{"p":7,"k":705,"x":1.37,"y":0.16},{"p":7,"k":705,"x":1.12,"y":-0.66},{"p":7,"k":705,"x":0.3,"y":-1.02},{"p":7,"k":705,"x":-0.2,"y":-1},{"p":7,"k":705,"x":-0.58,"y":-1.09},{"p":7,"k":705,"x":-1.13,"y":-0.66},
{"p":7,"k":706,"x":-1.19,"y":0.05},{"p":7,"k":706,"x":-0.91,"y":0.7},{"p":7,"k":706,"x":-0.42,"y":1.06},{"p":7,"k":706,"x":0.13,"y":0.99},{"p":7,"k":706,"x":0.68,"y":0.93},{"p":7,"k":706,"x":1.18,"y":0.38},{"p":7,"k":706,"x":1.23,"y":0.1},{"p":7,"k":706,"x":1.01,"y":-0.55},{"p":7,"k":706,"x":0.19,"y":-0.88},{"p":7,"k":706,"x":-0.47,"y":-0.85},{"p":7,"k":706,"x":-0.97,"y":-0.61},
{"p":7,"k":707,"x":-0.87,"y":0.16},{"p":7,"k":707,"x":-0.69,"y":0.57},{"p":7,"k":707,"x":-0.31,"y":0.87},{"p":7,"k":707,"x":0.35,"y":0.84},{"p":7,"k":707,"x":0.68,"y":0.6},{"p":7,"k":707,"x":1.07,"y":0.16},{"p":7,"k":707,"x":0.96,"y":-0.33},{"p":7,"k":707,"x":0.52,"y":-0.72},{"p":7,"k":707,"x":-0.36,"y":-0.63},{"p":7,"k":707,"x":-0.69,"y":-0.28},
{"p":7,"k":708,"x":-0.38,"y":0.32},{"p":7,"k":708,"x":-0.2,"y":0.68},{"p":7,"k":708,"x":0.3,"y":0.66},{"p":7,"k":708,"x":0.57,"y":0.27},{"p":7,"k":708,"x":0.89,"y":0},{"p":7,"k":708,"x":0.74,"y":-0.44},{"p":7,"k":708,"x":0.24,"y":-0.65},{"p":7,"k":708,"x":-0.14,"y":-0.55},{"p":7,"k":708,"x":-0.34,"y":-0.22},
{"p":7,"k":709,"x":-0.17,"y":0.27},{"p":7,"k":709,"x":0.02,"y":0.53},{"p":7,"k":709,"x":0.24,"y":0.38},{"p":7,"k":709,"x":0.43,"y":0.08},{"p":7,"k":709,"x":0.65,"y":-0.14},{"p":7,"k":709,"x":0.35,"y":-0.47},{"p":7,"k":709,"x":0.08,"y":-0.5},{"p":7,"k":709,"x":-0.12,"y":-0.33},
{"p":8,"k":800,"x":-3,"y":-3},{"p":8,"k":800,"x":3,"y":-3},{"p":8,"k":800,"x":3,"y":3},{"p":8,"k":800,"x":-3,"y":3},
{"p":8,"k":801,"x":-2.42,"y":0.54},{"p":8,"k":801,"x":-1.96,"y":0.98},{"p":8,"k":801,"x":-1.82,"y":1.25},{"p":8,"k":801,"x":-1.84,"y":1.69},{"p":8,"k":801,"x":-1.57,"y":2},{"p":8,"k":801,"x":-0.64,"y":2.06},{"p":8,"k":801,"x":0.27,"y":2.1},{"p":8,"k":801,"x":0.79,"y":1.89},{"p":8,"k":801,"x":1.29,"y":1.99},{"p":8,"k":801,"x":1.56,"y":1.83},{"p":8,"k":801,"x":1.7,"y":1.25},{"p":8,"k":801,"x":2.16,"y":0.7},{"p":8,"k":801,"x":2.22,"y":0.1},{"p":8,"k":801,"x":2.41,"y":-0.61},{"p":8,"k":801,"x":1.95,"y":-1},{"p":8,"k":801,"x":1.73,"y":-1.48},{"p":8,"k":801,"x":1.12,"y":-1.62},{"p":8,"k":801,"x":0.41,"y":-2.08},{"p":8,"k":801,"x":-0.14,"y":-2.3},{"p":8,"k":801,"x":-0.8,"y":-2.26},{"p":8,"k":801,"x":-1.32,"y":-2},{"p":8,"k":801,"x":-1.32,"y":-1.43},{"p":8,"k":801,"x":-1.9,"y":-0.72},{"p":8,"k":801,"x":-2.07,"y":-0.17},
{"p":8,"k":802,"x":-1.9,"y":0.32},{"p":8,"k":802,"x":-1.41,"y":1.09},{"p":8,"k":802,"x":-1.19,"y":1.52},{"p":8,"k":802,"x":-0.42,"y":1.81},{"p":8,"k":802,"x":0.24,"y":1.72},{"p":8,"k":802,"x":0.74,"y":1.55},{"p":8,"k":802,"x":1.23,"y":1.58},{"p":8,"k":802,"x":1.62,"y":1.09},{"p":8,"k":802,"x":1.97,"y":0.21},{"p":8,"k":802,"x":1.84,"y":-0.61},{"p":8,"k":802,"x":1.56,"y":-1.21},{"p":8,"k":802,"x":0.57,"y":-1.59},{"p":8,"k":802,"x":-0.03,"y":-1.88},{"p":8,"k":802,"x":-0.8,"y":-1.81},{"p":8,"k":802,"x":-1.08,"y":-1.32},{"p":8,"k":802,"x":-1.65,"y":-0.66},{"p":8,"k":802,"x":-1.74,"y":-0.11},
{"p":8,"k":803,"x":-1.49,"y":-0.06},{"p":8,"k":803,"x":-1.3,"y":0.76},{"p":8,"k":803,"x":-0.8,"y":1.33},{"p":8,"k":803,"x":-0.31,"y":1.51},{"p":8,"k":803,"x":0.68,"y":1.33},{"p":8,"k":803,"x":1.23,"y":1.2},{"p":8,"k":803,"x":1.62,"y":0.49},{"p":8,"k":803,"x":1.75,"y":0.05},{"p":8,"k":803,"x":1.56,"y":-0.83},{"p":8,"k":803,"x":0.57,"y":-1.37},{"p":8,"k":803,"x":-0.09,"y":-1.61},{"p":8,"k":803,"x":-0.86,"y":-1.43},{"p":8,"k":803,"x":-1.41,"y":-0.72},
{"p":8,"k":804,"x":-1.31,"y":0.21},{"p":8,"k":804,"x":-1.08,"y":0.87},{"p":8,"k":804,"x":-0.36,"y":1.22},{"p":8,"k":804,"x":0.35,"y":1.26},{"p":8,"k":804,"x":1.01,"y":0.98},{"p":8,"k":804,"x":1.56,"y":0.27},{"p":8,"k":804,"x":1.53,"y":-0.5},{"p":8,"k":804,"x":1.12,"y":-0.94},{"p":8,"k":804,"x":0.08,"y":-1.44},{"p":8,"k":804,"x":-0.69,"y":-1.32},{"p":8,"k":804,"x":-1.13,"y":-0.55},
{"p":8,"k":805,"x":-1.17,"y":0.38},{"p":8,"k":805,"x":-0.8,"y":0.92},{"p":8,"k":805,"x":0.35,"y":1.17},{"p":8,"k":805,"x":0.85,"y":0.92},{"p":8,"k":805,"x":1.4,"y":0.27},{"p":8,"k":805,"x":1.4,"y":-0.5},{"p":8,"k":805,"x":0.96,"y":-0.96},{"p":8,"k":805,"x":0.08,"y":-1.32},{"p":8,"k":805,"x":-0.64,"y":-1.18},{"p":8,"k":805,"x":-1.02,"y":-0.44},
{"p":8,"k":806,"x":-1.03,"y":0.32},{"p":8,"k":806,"x":-0.8,"y":0.79},{"p":8,"k":806,"x":-0.25,"y":0.84},{"p":8,"k":806,"x":0.41,"y":1.06},{"p":8,"k":806,"x":0.74,"y":0.9},{"p":8,"k":806,"x":1.26,"y":0.21},{"p":8,"k":806,"x":1.2,"y":-0.39},{"p":8,"k":806,"x":0.85,"y":-0.77},{"p":8,"k":806,"x":0.13,"y":-1.15},{"p":8,"k":806,"x":-0.58,"y":-1.04},{"p":8,"k":806,"x":-0.91,"y":-0.28},
{"p":8,"k":807,"x":-0.85,"y":0.38},{"p":8,"k":807,"x":-0.69,"y":0.51},{"p":8,"k":807,"x":-0.25,"y":0.57},{"p":8,"k":807,"x":0.46,"y":0.92},{"p":8,"k":807,"x":0.79,"y":0.7},{"p":8,"k":807,"x":1.04,"y":0.16},{"p":8,"k":807,"x":0.93,"y":-0.44},{"p":8,"k":807,"x":0.3,"y":-0.93},{"p":8,"k":807,"x":0.02,"y":-0.99},{"p":8,"k":807,"x":-0.58,"y":-0.83},{"p":8,"k":807,"x":-0.75,"y":-0.22},
{"p":8,"k":808,"x":-0.53,"y":0.05},{"p":8,"k":808,"x":-0.31,"y":0.24},{"p":8,"k":808,"x":0.24,"y":0.68},{"p":8,"k":808,"x":0.46,"y":0.79},{"p":8,"k":808,"x":0.74,"y":0.6},{"p":8,"k":808,"x":0.79,"y":0.21},{"p":8,"k":808,"x":0.73,"y":-0.39},{"p":8,"k":808,"x":0.24,"y":-0.77},{"p":8,"k":808,"x":-0.31,"y":-0.77},{"p":8,"k":808,"x":-0.5,"y":-0.5},
{"p":8,"k":809,"x":0.26,"y":0.35},{"p":8,"k":809,"x":0.35,"y":0.51},{"p":8,"k":809,"x":0.52,"y":0.56},{"p":8,"k":809,"x":0.58,"y":0.38},{"p":8,"k":809,"x":0.49,"y":0.16},{"p":8,"k":809,"x":0.35,"y":0.17},
{"p":8,"k":810,"x":0.23,"y":-0.43},{"p":8,"k":810,"x":0.35,"y":-0.22},{"p":8,"k":810,"x":0.46,"y":-0.18},{"p":8,"k":810,"x":0.52,"y":-0.33},{"p":8,"k":810,"x":0.41,"y":-0.5},{"p":8,"k":810,"x":0.3,"y":-0.51},
{"p":8,"k":811,"x":-0.09,"y":-0.12},{"p":8,"k":811,"x":-0.08,"y":-0.1},{"p":8,"k":811,"x":-0.07,"y":-0.12},
{"p":9,"k":900,"x":-3,"y":-3},{"p":9,"k":900,"x":3,"y":-3},{"p":9,"k":900,"x":3,"y":3},{"p":9,"k":900,"x":-3,"y":3},
{"p":9,"k":901,"x":-2.3,"y":0.02},{"p":9,"k":901,"x":-2.01,"y":0.95},{"p":9,"k":901,"x":-1.46,"y":1.55},{"p":9,"k":901,"x":-0.42,"y":2.32},{"p":9,"k":901,"x":-0.09,"y":2.5},{"p":9,"k":901,"x":0.32,"y":2.48},{"p":9,"k":901,"x":0.57,"y":2.13},{"p":9,"k":901,"x":1.18,"y":1.72},{"p":9,"k":901,"x":1.95,"y":1.43},{"p":9,"k":901,"x":2.14,"y":1.14},{"p":9,"k":901,"x":2.22,"y":0.27},{"p":9,"k":901,"x":2.41,"y":-0.33},{"p":9,"k":901,"x":2.11,"y":-0.83},{"p":9,"k":901,"x":1.4,"y":-1.7},{"p":9,"k":901,"x":1.23,"y":-2.03},{"p":9,"k":901,"x":0.41,"y":-2.11},{"p":9,"k":901,"x":-0.31,"y":-2.44},{"p":9,"k":901,"x":-0.64,"y":-2.25},{"p":9,"k":901,"x":-0.97,"y":-1.92},{"p":9,"k":901,"x":-1.57,"y":-1.73},{"p":9,"k":901,"x":-1.87,"y":-1.15},{"p":9,"k":901,"x":-2.18,"y":-1.02},{"p":9,"k":901,"x":-2.26,"y":-0.5},
{"p":9,"k":902,"x":-1.87,"y":0.27},{"p":9,"k":902,"x":-1.41,"y":1.03},{"p":9,"k":902,"x":-0.8,"y":1.47},{"p":9,"k":902,"x":-0.03,"y":2.11},{"p":9,"k":902,"x":0.85,"y":1.55},{"p":9,"k":902,"x":1.73,"y":1.14},{"p":9,"k":902,"x":1.95,"y":0.16},{"p":9,"k":902,"x":2.08,"y":-0.33},{"p":9,"k":902,"x":1.73,"y":-0.72},{"p":9,"k":902,"x":1.45,"y":-1.21},{"p":9,"k":902,"x":0.96,"y":-1.7},{"p":9,"k":902,"x":0.08,"y":-1.82},{"p":9,"k":902,"x":-0.42,"y":-1.93},{"p":9,"k":902,"x":-0.91,"y":-1.59},{"p":9,"k":902,"x":-1.52,"y":-1.48},{"p":9,"k":902,"x":-1.85,"y":-0.5},
{"p":9,"k":903,"x":-1.57,"y":-0.28},{"p":9,"k":903,"x":-1.46,"y":0.6},{"p":9,"k":903,"x":-1.08,"y":1.14},{"p":9,"k":903,"x":-0.58,"y":1.36},{"p":9,"k":903,"x":-0.14,"y":1.77},{"p":9,"k":903,"x":0.41,"y":1.55},{"p":9,"k":903,"x":0.96,"y":1.22},{"p":9,"k":903,"x":1.4,"y":1.03},{"p":9,"k":903,"x":1.56,"y":0.38},{"p":9,"k":903,"x":1.45,"y":-0.72},{"p":9,"k":903,"x":0.96,"y":-1.37},{"p":9,"k":903,"x":0.41,"y":-1.56},{"p":9,"k":903,"x":-0.64,"y":-1.34},{"p":9,"k":903,"x":-1.35,"y":-1.26},
{"p":9,"k":904,"x":-1.41,"y":-0.22},{"p":9,"k":904,"x":-1.3,"y":0.27},{"p":9,"k":904,"x":-0.8,"y":0.92},{"p":9,"k":904,"x":-0.14,"y":1.5},{"p":9,"k":904,"x":0.57,"y":1.2},{"p":9,"k":904,"x":1.23,"y":0.7},{"p":9,"k":904,"x":1.3,"y":0.1},{"p":9,"k":904,"x":1.12,"y":-0.72},{"p":9,"k":904,"x":0.52,"y":-1.13},{"p":9,"k":904,"x":0.08,"y":-1.29},{"p":9,"k":904,"x":-0.64,"y":-1.1},{"p":9,"k":904,"x":-1.16,"y":-1.02},
{"p":9,"k":905,"x":-1.23,"y":-0.17},{"p":9,"k":905,"x":-0.86,"y":0.65},{"p":9,"k":905,"x":-0.03,"y":1.28},{"p":9,"k":905,"x":0.57,"y":1.09},{"p":9,"k":905,"x":1.07,"y":0.65},{"p":9,"k":905,"x":1.12,"y":0.05},{"p":9,"k":905,"x":0.85,"y":-0.66},{"p":9,"k":905,"x":0.13,"y":-1.13},{"p":9,"k":905,"x":-0.64,"y":-0.83},{"p":9,"k":905,"x":-1.08,"y":-0.61},
{"p":9,"k":906,"x":-0.96,"y":0},{"p":9,"k":906,"x":-0.69,"y":0.65},{"p":9,"k":906,"x":0.13,"y":1.1},{"p":9,"k":906,"x":0.57,"y":0.92},{"p":9,"k":906,"x":0.96,"y":0.38},{"p":9,"k":906,"x":1.04,"y":0},{"p":9,"k":906,"x":0.74,"y":-0.55},{"p":9,"k":906,"x":0.3,"y":-0.93},{"p":9,"k":906,"x":-0.25,"y":-0.77},{"p":9,"k":906,"x":-0.8,"y":-0.5},
{"p":9,"k":907,"x":-0.79,"y":0.1},{"p":9,"k":907,"x":-0.53,"y":0.65},{"p":9,"k":907,"x":0.3,"y":0.93},{"p":9,"k":907,"x":0.74,"y":0.43},{"p":9,"k":907,"x":0.93,"y":0.1},{"p":9,"k":907,"x":0.79,"y":-0.39},{"p":9,"k":907,"x":0.19,"y":-0.74},{"p":9,"k":907,"x":-0.25,"y":-0.61},{"p":9,"k":907,"x":-0.66,"y":-0.33},
{"p":9,"k":908,"x":-0.67,"y":0.16},{"p":9,"k":908,"x":-0.42,"y":0.62},{"p":9,"k":908,"x":0.3,"y":0.76},{"p":9,"k":908,"x":0.63,"y":0.43},{"p":9,"k":908,"x":0.85,"y":0.02},{"p":9,"k":908,"x":0.57,"y":-0.44},{"p":9,"k":908,"x":0.24,"y":-0.55},{"p":9,"k":908,"x":-0.36,"y":-0.44},{"p":9,"k":908,"x":-0.6,"y":-0.17},
{"p":9,"k":909,"x":-0.57,"y":0.1},{"p":9,"k":909,"x":-0.42,"y":0.46},{"p":9,"k":909,"x":-0.09,"y":0.51},{"p":9,"k":909,"x":0.35,"y":0.51},{"p":9,"k":909,"x":0.68,"y":0.21},{"p":9,"k":909,"x":0.71,"y":-0.11},{"p":9,"k":909,"x":0.52,"y":-0.34},{"p":9,"k":909,"x":-0.2,"y":-0.28},{"p":9,"k":909,"x":-0.47,"y":-0.14},
{"p":9,"k":910,"x":-0.46,"y":0.15},{"p":9,"k":910,"x":-0.34,"y":0.35},{"p":9,"k":910,"x":-0.2,"y":0.32},{"p":9,"k":910,"x":-0.12,"y":0.1},{"p":9,"k":910,"x":-0.23,"y":-0.08},{"p":9,"k":910,"x":-0.36,"y":-0.03}
]},"facet":{"field":"p","type":"nominal","header":{"labelExpr":"''","labelFontSize":0,"labelPadding":0,"title":null}},"spacing":{"column":57,"row":58},"spec":{"width":364,"height":365,"mark":{"type":"line","filled":true,"interpolate":"cardinal-closed","clip":true,"strokeWidth":0},"encoding":{"x":{"field":"x","type":"quantitative","scale":{"domain":[-3,3],"nice":false},"axis":{"values":[-2,0,2],"title":null,"domain":false,"ticks":false,"grid":false,"labelFont":"Liberation Sans","labelFontSize":29,"labelColor":"#262626","labelPadding":24}},"y":{"field":"y","type":"quantitative","scale":{"domain":[-3,3],"nice":false},"axis":{"values":[-3,-2,-1,0,1,2,3],"title":null,"domain":false,"ticks":false,"grid":false,"labelFont":"Liberation Sans","labelFontSize":29,"labelColor":"#262626","labelPadding":27}},"order":{"value":null},"color":{"field":"k","type":"ordinal","legend":null,"scale":{"domain":[100,101,102,103,104,105,106,107,108,109,110,200,201,202,203,204,205,206,207,208,300,301,302,303,304,305,306,307,308,309,310,400,401,402,403,404,405,406,407,408,500,501,502,503,504,505,506,507,508,509,510,600,601,602,603,604,605,606,607,608,609,700,701,702,703,704,705,706,707,708,709,800,801,802,803,804,805,806,807,808,809,810,811,900,901,902,903,904,905,906,907,908,909,910],"range":["#f7f7f0","#e6e2d1","#dbcdb3","#d0b59d","#c49e89","#b9837a","#a86b6c","#955666","#7b3f58","#61304e","#441e3a","#f0f7ed","#d7e4c9","#c2cea4","#b1b184","#a29064","#947350","#825640","#693b34","#4e2328","#eff8f5","#d3ebdf","#b9dcc1","#a4cc9f","#95b684","#86a066","#738047","#65683a","#5c5a2f","#50421f","#3e2716","#edf6f7","#c9e7e2","#a4d4c4","#88bfa5","#6fa97c","#5e905b","#4d723b","#3f5526","#2f3516","#f3f6fd","#d7e5f0","#bbd5e2","#9fc7d1","#84b7ba","#69a79f","#549482","#3f7e5f","#366f4a","#2d5f38","#1e3a1c","#f5f3fc","#dfdcf3","#c4c7e7","#a7b8da","#85a3c5","#6991aa","#4b7d8a","#336663","#255b52","#154231","#fbf1f9","#ebd6ec","#d6bce3","#bea7d6","#a692c8","#8783b8","#6071a0","#466083","#2e4c5f","#193a44","#fcf2f4","#f3d6e2","#e5b9d2","#d39fc5","#bd88b8","#a174a8","#83649b","#5f5185","#434270","#262e4e","#262e4e","#d39fc5","#faf5f2","#f1ddd8","#e7c3c1","#dda8b3","#cc92a5","#bd7b9b","#a8658c","#8c5380","#734473","#573261","#3a2349"]}}}},"config":{"view":{"stroke":null}}}
